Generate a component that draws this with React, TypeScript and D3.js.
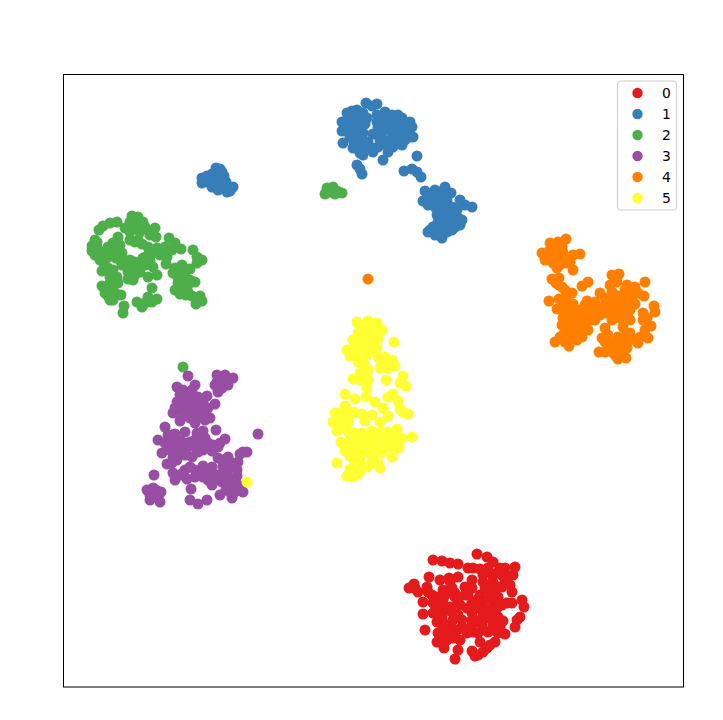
import React, { useEffect, useRef } from 'react';
import * as d3 from 'd3';

// values, in the picture's own units
const labels = ['0', '1', '2', '3', '4', '5'];

const cluster0 = [[477,554],[487,557],[493,562],[433,560],[442,561],[450,563],[458,564],[468,568],[480,569],[488,568],[505,568],[515,567],[497,573],[513,575],[507,577],[429,577],[440,580],[449,578],[458,577],[472,580],[483,582],[493,582],[414,584],[409,588],[418,592],[427,587],[452,588],[465,587],[502,587],[512,592],[437,597],[445,595],[455,597],[465,595],[480,595],[490,592],[498,597],[423,602],[433,603],[443,604],[460,605],[472,603],[483,602],[493,602],[502,605],[512,603],[522,600],[524,607],[423,614],[433,613],[452,612],[442,618],[458,615],[472,613],[483,615],[493,613],[520,617],[517,620],[437,622],[450,625],[503,621],[515,627],[425,630],[443,628],[462,627],[472,625],[482,625],[493,625],[505,634],[438,633],[450,635],[467,633],[478,633],[488,632],[498,633],[437,642],[447,640],[460,640],[480,642],[495,642],[444,648],[458,650],[472,651],[487,648],[478,655],[455,659],[483,652],[475,656],
  [443,600],[450,607],[438,610],[458,602],[467,608],[477,608],[487,610],[497,608],[488,618],[480,620],[472,620],[462,620],[453,620],[443,623],[457,630],[463,628],[473,632],[483,630],[493,630],[500,627],[443,635],[453,638],[442,643],[490,645],[485,588],[493,588],[483,575],[492,575],[502,575],[472,588],[468,595],[443,590],[432,595],[450,582],[490,598],[477,600],[507,603],[497,587],[505,582],[510,585],[455,593],[415,588],[428,592],[487,570],[500,568],[473,568],[443,613],[493,620],[498,617],[448,632]];

const cluster1 = [[366,103],[372,106],[377,104],[347,113],[352,111],[357,110],[363,113],[342,122],[342,131],[348,118],[353,122],[360,120],[367,118],[385,112],[383,118],[392,115],[398,115],[402,118],[410,122],[412,127],[403,125],[395,123],[388,123],[377,122],[378,127],[360,128],[353,128],[348,132],[355,135],[363,133],[373,134],[382,133],[392,132],[400,132],[407,133],[413,137],[402,145],[405,140],[343,143],[353,148],[360,147],[363,155],[373,152],[370,147],[383,160],[388,147],[388,152],[390,140],[380,140],[368,142],[357,165],[360,169],[362,174],[417,156],[404,171],[412,169],[417,172],[421,177],
  [348,125],[352,116],[358,115],[365,124],[357,125],[350,137],[358,140],[354,142],[363,140],[384,125],[392,127],[397,120],[400,128],[405,122],[407,128],[390,118],[396,137],[400,137],[388,128],[388,115],[377,115],[381,138],[385,143],[345,125],[358,130],[365,147],[393,147],[409,137],[395,140],[378,147],[360,153],
  [425,191],[435,190],[445,187],[451,193],[423,201],[430,197],[437,198],[443,197],[460,200],[465,205],[472,207],[428,205],[435,207],[443,205],[452,207],[457,210],[437,215],[445,213],[453,215],[462,220],[460,225],[452,223],[430,230],[428,232],[435,227],[440,228],[447,232],[442,238],[435,235],[448,225],[438,222],
  [440,203],[447,200],[440,213],[447,218],[452,212],[442,208],[437,203],[458,218],[455,222],[433,227],[437,231],[445,228],[452,230],[455,227],[428,196],[433,194],[441,192],[441,219],
  [216,168],[222,172],[224,176],[212,174],[202,178],[202,183],[208,180],[217,177],[212,187],[218,190],[227,192],[233,187],[230,191],[222,183],[215,183],[226,182],
  [220,178],[228,187],[207,176],[212,180],[218,185],[223,188],[210,183],[220,169]];

const cluster2 = [[132,216],[138,217],[117,222],[110,223],[103,226],[99,230],[125,228],[133,225],[143,222],[155,228],[150,235],[140,232],[156,237],[95,240],[92,251],[97,247],[118,237],[113,243],[108,247],[120,245],[135,242],[142,244],[148,247],[100,258],[108,257],[122,253],[157,248],[165,247],[169,238],[175,243],[181,249],[160,255],[167,257],[166,264],[193,250],[197,257],[202,260],[197,263],[148,255],[143,258],[130,260],[122,265],[102,271],[108,268],[110,277],[117,277],[128,279],[135,275],[132,267],[142,263],[153,267],[148,277],[157,275],[102,286],[105,293],[112,288],[118,283],[121,295],[113,300],[152,288],[148,297],[157,299],[137,302],[142,307],[124,306],[123,313],[175,268],[182,265],[190,269],[173,273],[183,277],[195,282],[178,283],[188,285],[175,290],[180,294],[188,292],[200,296],[202,301],[196,304],[130,232],
  [130,222],[137,227],[145,227],[152,232],[92,246],[97,242],[100,252],[105,252],[100,260],[95,255],[104,263],[111,250],[115,250],[116,258],[120,260],[113,270],[126,262],[135,262],[138,268],[128,272],[140,272],[133,280],[145,265],[150,260],[155,252],[162,251],[170,250],[172,250],[175,247],[178,275],[180,270],[185,272],[178,278],[183,283],[190,280],[183,290],[192,296],[180,287],[186,295],[105,288],[108,296],[110,283],[115,293],[110,300],[145,303],[152,302],[130,240],[138,240],
  [327,188],[333,187],[325,194],[330,192],[337,191],[342,193],[335,194],[183,367]];

const cluster3 = [[188,376],[195,385],[177,387],[183,390],[190,393],[217,375],[225,375],[233,378],[217,382],[218,392],[228,385],[222,388],[207,396],[198,397],[177,402],[185,402],[173,413],[215,404],[208,408],[200,407],[192,405],[182,410],[193,415],[202,415],[210,418],[180,421],[195,423],[165,427],[158,440],[168,435],[175,434],[185,432],[197,433],[203,431],[216,430],[258,434],[225,439],[220,443],[168,442],[182,442],[190,442],[200,442],[208,443],[177,448],[187,448],[212,451],[162,453],[247,452],[240,454],[238,462],[228,457],[218,458],[173,457],[192,457],[167,464],[177,460],[190,467],[203,466],[212,467],[223,467],[173,473],[183,473],[195,477],[203,477],[217,475],[227,472],[237,476],[154,475],[175,480],[187,479],[212,485],[222,482],[230,485],[238,485],[220,495],[232,498],[243,492],[235,492],[191,489],[190,500],[198,504],[207,500],[147,490],[153,488],[161,492],[150,500],[160,502],[155,495],
  [182,397],[190,400],[195,400],[203,402],[188,410],[195,410],[205,412],[190,418],[197,418],[205,420],[178,407],[175,408],[183,416],[222,380],[225,380],[215,385],[180,395],[192,390],[172,435],[178,440],[185,445],[195,440],[205,438],[213,445],[218,447],[170,450],[172,463],[185,470],[180,475],[195,470],[200,472],[208,472],[215,480],[208,480],[222,475],[228,478],[233,480],[226,490],[230,492],[240,490],[237,470],[232,465],[243,452],[165,443],[222,460],[230,462],[150,495],[156,490],[158,498],[152,491],
  [172,445],[180,452],[195,447],[203,450],[185,455],[198,452]];

const cluster4 = [[566,239],[558,242],[550,243],[542,253],[545,260],[555,250],[563,253],[573,255],[580,254],[550,257],[558,260],[567,263],[557,268],[573,270],[552,279],[559,278],[559,285],[565,290],[572,293],[549,301],[559,299],[582,286],[588,282],[612,275],[619,274],[610,285],[617,282],[627,285],[635,287],[645,282],[644,296],[638,293],[630,292],[623,295],[600,293],[618,298],[610,300],[595,302],[587,301],[573,304],[563,308],[557,309],[580,310],[590,310],[602,308],[635,304],[627,305],[654,306],[655,312],[643,313],[570,313],[563,318],[580,318],[595,320],[607,313],[620,318],[617,312],[647,318],[651,326],[630,320],[562,325],[588,330],[605,328],[623,327],[578,328],[573,330],[572,337],[582,337],[560,337],[555,342],[565,342],[569,346],[602,338],[618,337],[630,333],[638,343],[648,338],[610,343],[620,345],[628,342],[605,352],[599,352],[612,352],[618,359],[626,358],[622,350],[590,320],[368,279],
  [550,250],[558,255],[562,247],[567,258],[553,263],[560,265],[570,262],[556,283],[562,287],[570,310],[575,313],[585,305],[590,305],[597,307],[605,305],[612,305],[615,295],[605,298],[595,312],[600,315],[587,315],[585,322],[565,313],[570,320],[575,322],[567,330],[583,328],[612,292],[625,290],[632,297],[625,300],[620,307],[624,313],[630,310],[612,320],[643,320],[645,330],[640,337],[630,338],[627,333],[608,335],[610,350],[615,345],[605,342],[622,342],[615,355],[620,352],[627,348],[575,335],[577,340],[563,335],[586,325],[592,315],[564,301],[567,298]];

const cluster5 = [[357,322],[368,321],[377,323],[382,330],[363,328],[372,330],[353,340],[360,337],[368,338],[378,338],[394,342],[347,350],[350,356],[357,348],[365,350],[377,347],[358,362],[363,357],[378,357],[385,357],[392,360],[395,366],[380,368],[388,368],[368,370],[360,373],[353,379],[360,380],[368,380],[367,388],[386,380],[403,376],[400,383],[406,386],[345,394],[355,399],[366,397],[375,402],[388,397],[393,394],[398,401],[345,406],[335,413],[354,412],[362,414],[372,415],[383,408],[388,416],[400,409],[403,412],[408,414],[333,422],[342,418],[348,422],[365,421],[380,422],[337,431],[347,430],[355,433],[362,433],[372,431],[380,433],[388,432],[397,429],[412,437],[402,438],[395,439],[341,442],[353,442],[372,443],[388,443],[399,448],[345,451],[357,448],[350,456],[370,452],[362,455],[382,452],[392,457],[337,463],[373,458],[360,462],[368,467],[380,468],[350,469],[353,477],[347,476],[358,474],
  [360,325],[365,325],[372,325],[375,330],[378,328],[358,333],[365,333],[372,335],[378,333],[355,345],[362,343],[370,343],[375,342],[352,352],[360,355],[368,354],[373,350],[355,352],[382,362],[388,362],[384,365],[365,365],[345,412],[340,413],[340,425],[345,425],[338,420],[350,415],[350,435],[358,438],[365,437],[372,437],[375,438],[383,438],[390,437],[350,445],[345,445],[358,443],[365,445],[375,447],[382,447],[392,447],[397,443],[350,450],[355,453],[365,447],[375,452],[355,462],[362,468],[352,472],[358,468],[372,463],[378,463],[247,482]];

const clusters = [cluster0, cluster1, cluster2, cluster3, cluster4, cluster5];

const App: React.FC = () => {
  const svgRef = useRef<SVGSVGElement | null>(null);

  useEffect(() => {
    if (!svgRef.current) return;

    const width = 723;
    const height = 720;
    const margin = { top: 74.5, right: 39.5, bottom: 33, left: 63.5 };

    const svg = d3.select(svgRef.current);
    svg.selectAll('*').remove();

    const x = d3.scaleLinear()
      .domain([63.5, 683.5])
      .range([margin.left, width - margin.right]);
    const y = d3.scaleLinear()
      .domain([74.5, 687])
      .range([margin.top, height - margin.bottom]);
    const color = d3.scaleOrdinal<string, string>().domain(labels).range(d3.schemeSet1);

    svg.append('rect')
      .attr('width', width)
      .attr('height', height)
      .attr('fill', '#fff');

    clusters.forEach((points, i) => {
      svg.append('g')
        .selectAll('circle')
        .data(points)
        .join('circle')
        .attr('cx', (d) => x(d[0]))
        .attr('cy', (d) => y(d[1]))
        .attr('r', 5.5)
        .attr('fill', color(labels[i]));
    });

    svg.append('rect')
      .attr('x', margin.left)
      .attr('y', margin.top)
      .attr('width', width - margin.left - margin.right)
      .attr('height', height - margin.top - margin.bottom)
      .attr('fill', 'none')
      .attr('stroke', '#000')
      .attr('stroke-width', 1);

    // legend
    const rowY = d3.scalePoint<string>().domain(labels).range([93, 198]);
    svg.append('rect')
      .attr('x', 617.5)
      .attr('y', 81)
      .attr('width', 59)
      .attr('height', 129)
      .attr('rx', 3)
      .attr('fill', '#fff')
      .attr('fill-opacity', 0.8)
      .attr('stroke', '#ccc');

    const rows = svg.append('g')
      .selectAll('g')
      .data(labels)
      .join('g')
      .attr('transform', (d) => `translate(0, ${rowY(d)})`);
    rows.append('circle')
      .attr('cx', 637.5)
      .attr('r', 5.2)
      .attr('fill', (d) => color(d));
    rows.append('text')
      .attr('x', 662)
      .attr('y', 5)
      .attr('font-family', '"DejaVu Sans"')
      .attr('font-size', 13.9)
      .attr('fill', '#000')
      .text((d) => d);
  }, []);

  return (
    <svg
      ref={svgRef}
      width={723}
      height={720}
      style={{ position: 'absolute', left: 0, top: 0, display: 'block' }}
    ></svg>
  );
};

export default App;
